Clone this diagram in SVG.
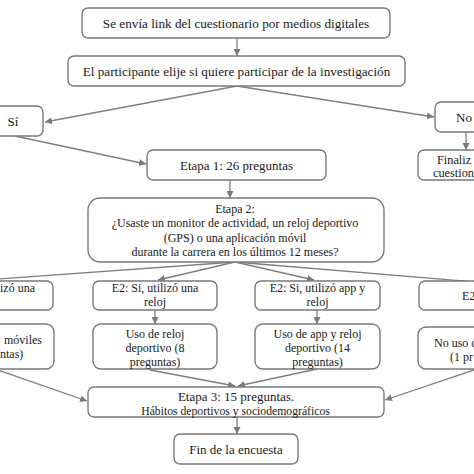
<svg xmlns="http://www.w3.org/2000/svg" width="474" height="474" viewBox="0 0 474 474">
<defs>
<marker id="ah" markerUnits="userSpaceOnUse" markerWidth="8" markerHeight="7" refX="7" refY="3.5" orient="auto">
<path d="M0,0 L7,3.5 L0,7 Z" fill="#7a7a7a"/>
</marker>
<style>
rect{fill:#fff;stroke:#7a7a7a;stroke-width:1.4}
text{font-family:"Liberation Serif","Times New Roman",serif;fill:#1a1a1a;font-size:13px}
.c{text-anchor:middle}
.s{font-size:12px}
.m{font-size:11.7px}
#connectors line{stroke:#7f7f7f;stroke-width:1.3;marker-end:url(#ah)}
</style>
</defs>
<rect x="0" y="0" width="474" height="474" style="fill:#fff;stroke:none"/>
<g id="connectors">
<line x1="237" y1="38" x2="237" y2="56"/>
<line x1="237" y1="86" x2="45" y2="122"/>
<line x1="237" y1="86" x2="434" y2="117"/>
<line x1="466" y1="132" x2="466" y2="150"/>
<line x1="15" y1="136" x2="146" y2="164"/>
<line x1="230" y1="180" x2="230" y2="198"/>
<line x1="235" y1="262" x2="-15" y2="280"/>
<line x1="235" y1="262" x2="158" y2="280"/>
<line x1="235" y1="262" x2="314" y2="280"/>
<line x1="235" y1="262" x2="500" y2="284"/>
<line x1="155" y1="310" x2="155" y2="324"/>
<line x1="317" y1="310" x2="317" y2="324"/>
<line x1="-5" y1="369" x2="87" y2="401"/>
<line x1="150" y1="370" x2="235" y2="386"/>
<line x1="317" y1="369" x2="238" y2="386"/>
<line x1="480" y1="368" x2="385" y2="400"/>
<line x1="237" y1="417" x2="237" y2="434"/>
</g>
<g id="n_envio"><rect x="82" y="8" width="308" height="30" rx="6"/><text class="c" x="236" y="27.5" style="font-size:13.2px">Se envía link del cuestionario por medios digitales</text></g>
<g id="n_participante"><rect x="68" y="56" width="337" height="30" rx="6"/><text class="c" x="236.5" y="75.5" style="font-size:13.2px">El participante elije si quiere participar de la investigación</text></g>
<g id="n_si"><rect x="-20" y="106" width="63" height="30" rx="6"/><text class="c" x="13" y="125.5">Sí</text></g>
<g id="n_no"><rect x="435" y="102" width="60" height="30" rx="6"/><text x="456" y="121.5">No</text></g>
<g id="n_finaliza"><rect x="418" y="150" width="80" height="30" rx="6"/><text x="437" y="163.5" style="font-size:12.3px">Finaliz</text><text x="433" y="177" style="font-size:12.3px">cuestion</text></g>
<g id="n_etapa1"><rect x="147" y="150" width="179" height="30" rx="6"/><text class="c" x="236.5" y="169.5">Etapa 1: 26 preguntas</text></g>
<g id="n_etapa2"><rect x="88" y="198" width="296" height="64" rx="12"/>
<text class="c s" x="235" y="212.5">Etapa 2:</text>
<text class="c s" x="235" y="227">¿Usaste un monitor de actividad, un reloj deportivo</text>
<text class="c s" x="235" y="241.5">(GPS) o una aplicación móvil</text>
<text class="c s" x="235" y="256">durante la carrera en los últimos 12 meses?</text></g>
<g id="n_e2_app"><rect x="-30" y="281" width="83" height="29" rx="6"/><text class="s" x="0" y="292">izó una</text></g>
<g id="n_e2_reloj"><rect x="93" y="281" width="124" height="29" rx="6"/><text class="c s" x="155" y="292">E2: Si, utilizó una</text><text class="c s" x="155" y="306">reloj</text></g>
<g id="n_e2_appreloj"><rect x="255" y="281" width="125" height="29" rx="6"/><text class="c s" x="317.5" y="292">E2: Si, utilizó app y</text><text class="c s" x="317.5" y="306">reloj</text></g>
<g id="n_e2_no"><rect x="419" y="281" width="80" height="29" rx="6"/><text class="s" x="462" y="300">E2</text></g>
<g id="n_uso_app"><rect x="-30" y="324" width="84" height="45" rx="8"/><text class="s" x="4" y="344">móviles</text><text class="s" x="0" y="357.5">ntas)</text></g>
<g id="n_uso_reloj"><rect x="93" y="324" width="124" height="45" rx="8"/><text class="c s" x="155" y="338">Uso de reloj</text><text class="c s" x="155" y="352">deportivo (8</text><text class="c s" x="155" y="365.5">preguntas)</text></g>
<g id="n_uso_appreloj"><rect x="255" y="324" width="125" height="45" rx="8"/><text class="c s" x="317.5" y="338">Uso de app y reloj</text><text class="c s" x="317.5" y="352">deportivo (14</text><text class="c s" x="317.5" y="365.5">preguntas)</text></g>
<g id="n_no_uso"><rect x="418" y="327" width="80" height="42" rx="8"/><text class="s" x="434" y="347">No uso c</text><text class="s" x="450" y="360.5">(1 pr</text></g>
<g id="n_etapa3"><rect x="88" y="387" width="296" height="30" rx="6"/><text class="c" x="236" y="401">Etapa 3: 15 preguntas.</text><text class="c m" x="235.5" y="414.5">Hábitos deportivos y sociodemográficos</text></g>
<g id="n_fin"><rect x="174" y="434" width="124" height="30" rx="6"/><text class="c" x="236" y="453.5">Fin de la encuesta</text></g>
</svg>
